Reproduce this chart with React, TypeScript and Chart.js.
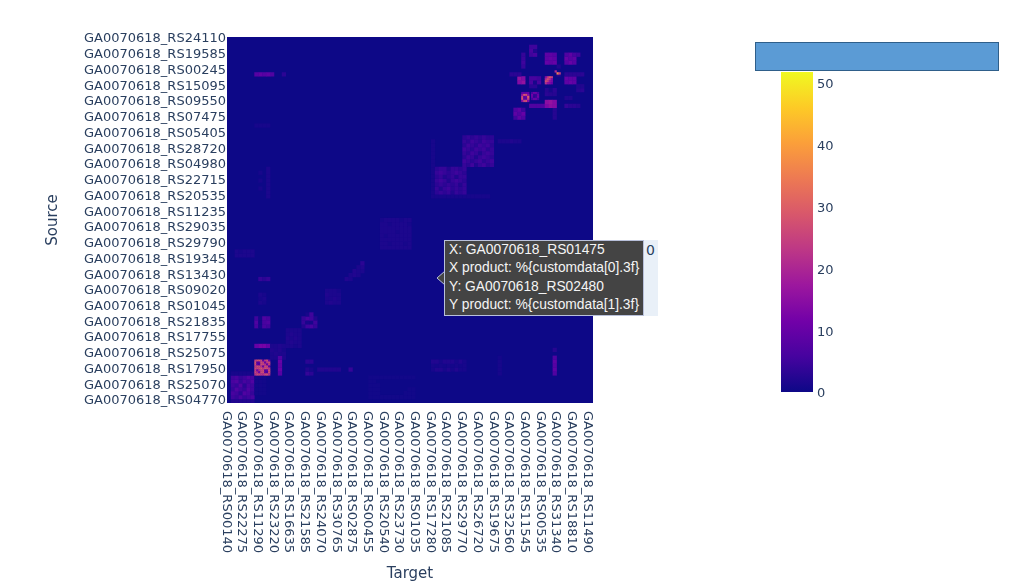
import React, { useEffect, useRef } from "react";
import { Chart, registerables } from "chart.js";

Chart.register(...registerables);

const FONT = "'DejaVu Sans', Verdana, sans-serif";
const INK = "#2a3f5f";

const targetLabels = ["GA0070618_RS00140","GA0070618_RS22275","GA0070618_RS11290","GA0070618_RS23220","GA0070618_RS16635","GA0070618_RS21585","GA0070618_RS24070","GA0070618_RS30765","GA0070618_RS02875","GA0070618_RS00455","GA0070618_RS20540","GA0070618_RS23730","GA0070618_RS01035","GA0070618_RS17280","GA0070618_RS21085","GA0070618_RS29770","GA0070618_RS26720","GA0070618_RS19675","GA0070618_RS32560","GA0070618_RS11545","GA0070618_RS00535","GA0070618_RS31340","GA0070618_RS18810","GA0070618_RS11490"];
const sourceLabels = ["GA0070618_RS04770","GA0070618_RS25070","GA0070618_RS17950","GA0070618_RS25075","GA0070618_RS17755","GA0070618_RS21835","GA0070618_RS01045","GA0070618_RS09020","GA0070618_RS13430","GA0070618_RS19345","GA0070618_RS29790","GA0070618_RS29035","GA0070618_RS11235","GA0070618_RS20535","GA0070618_RS22715","GA0070618_RS04980","GA0070618_RS28720","GA0070618_RS05405","GA0070618_RS07475","GA0070618_RS09550","GA0070618_RS15095","GA0070618_RS00245","GA0070618_RS19585","GA0070618_RS24110"];
const tickEvery = 4;

const plasma = ["#0d0887","#46039f","#7201a8","#9c179e","#bd3786","#d8576b","#ed7953","#fb9f3a","#fdca26","#f0f921"];
const colorMax = 51.8;

// Each row: [row index from the bottom, first column, ...cell values]
const coarseRows: number[][] = [
  [0,1,2,2,2,2,2,2],
  [1,1,5,4,6,4,5,6],[1,36,0.5,0.5,0.5,0.5,0.5,0.5,0.5,0.5,0.5,0.5,0.5,0.5],
  [2,1,6,5,3,7,6,4],[2,7,0.5,0.5,0.5],[2,36,0.5,0.5,0.5],[2,45,0.5,0.5,0.5],
  [3,1,4,7,5,4,7,5],[3,7,0.5,0.5,0.5],[3,36,0.5,0.5,0.5],[3,46,0.5,0.5],
  [4,1,5,4,7,3,6,5],[4,7,0.5,0.7,0.5],[4,36,0.5,0.5,0.5],
  [5,1,6,7,4,6,5,7],[5,7,0.7,0.7,0.5],[5,36,0.5,0.5],
  [6,1,5,6,4,5,7,6],[6,7,0.7,0.7,0.7],[6,36,0.5,0.5,0.5,0.5,0.5,0.5,0.5,0.5,0.5,0.5,0.5,0.5],
  [7,1,1,1,1,1,1,1],[7,13,8],[7,20,4,3],[7,69,1],[7,83,7],
  [8,13,10],[8,20,2,1],[8,23,2,2,2,2,2,2],[8,31,4],[8,52,1,2,2,1,2,1,2,1,1],[8,69,1],[8,83,9],
  [9,13,9],[9,52,1,0.7,1,0.7,1,0.7,1,0.7,1],[9,69,1],[9,83,8],
  [10,13,10],[10,20,3,3],[10,52,2,2,1,2,2,2,1,2,1],[10,69,1],[10,83,9],
  [11,11,1.5,1.5,1,1.5],[11,13,7],[11,69,0.7],[11,83,7],
  [12,11,1.5,2,1.5,1.5],
  [13,11,2,1.5,2,1],[13,83,2.5],
  [14,7,10,12,12,10],[14,11,1.5,1.5,2,1.5],[14,15,1.5,1.5,1,1.5],
  [15,15,1.5,2,1.5,1.5],
  [16,15,2,1.5,2,1.5],
  [17,15,1.5,2,1.5,1.5],
  [18,15,1.5,1.5,1.5,1.5],
  [19,7,6,1,6,5],[19,19,2,5,6,4],
  [20,7,7,0.7,6,7],[20,19,4,1,1,5],
  [21,7,5,1,7,6],[21,19,4,6,5,2],[21,21,5],
  [22,20,1,5],
  [25,8,1.5,1],[25,25,1.5,2,1.5,1.5],
  [26,8,1,1.5],[26,25,1.5,1.5,2,1.5],
  [27,8,1.5,1],[27,25,2,1.5,1.5,1.5],
  [28,25,1.5,1.5,1.5,1],
  [31,8,4,3,4],[31,30,2,1.5],[31,62,0.7],
  [32,31,1.5,2,1.5],
  [33,32,2,1.5,1.5],
  [34,33,1.5,2],[35,34,3],
  [37,2,1.5,1.5,1.5,1.5,1.5],
  [38,2,1.5,1,1.5,1.5,1.5],
  [39,39,1.5,1.5,1.5,1.5,1.5,1.5,1.5,1.5],
  [40,39,1.5,1.5,1,1.5,1.5,1.5,1,1.5],[41,39,1.5,1.5,1.5,1.5,1.5,1.5,1.5,1.5],[42,39,1.5,1,1.5,1.5,1.5,1.5,1.5,1.5],
  [43,39,1.5,1.5,1.5,1.5,1,1.5,1.5,1.5],[44,39,1.5,1.5,1.5,1.5,1.5,1.5,1.5,1.5],[45,39,1.5,1.5,1,1.5,1.5,1.5,1.5,1],[46,39,1,1.5,1.5,1.5,1.5,1,1.5,1.5],
  [52,52,1,1,1,1,1,1,1,1,1,1,1,1,1,1,1],
  [52,10,1.5],[53,10,1.5],[54,8,1],[54,10,1.5],[55,10,1.5],[56,8,1],[56,10,1.5],[57,10,1.5],[58,8,1],[58,10,1.5],[59,10,1.5],
  [53,52,1,3,4,3,4,2,4,3,4],
  [54,52,1,4,2,4,5,3,4,3,4],[55,52,1,3,4,3,4,3,4,2,4],[56,52,1,4,5,4,2,4,5,4,3],
  [57,52,1,3,4,2,3,4,2,4,4],[58,52,1,4,5,4,3,4,5,4,3],[59,52,1,3,4,4,2,4,4,3,4],
  [60,52,1],[60,60,4,3,5,2,4,5,3,4],
  [61,52,1],[61,60,5,4,3,4,5,3,4,5],[62,52,1],[62,60,3,5,4,2,4,5,4,3],[63,52,1],[63,60,4,3,5,4,2,4,5,4],
  [64,52,1],[64,60,5,4,3,5,4,5,3,4],[65,52,1],[65,60,3,5,4,3,5,4,5,3],[66,52,1],[66,60,4,3,5,4,3,5,4,4],[66,69,1.5,1.5,1.5,2,1.5,1.5],
  [67,60,3,4,3,4,3,4,3,3],
  [70,7,1,1,1,1],
  [72,73,5,9,7],[72,83,2.5],
  [73,73,9,7,10],[73,83,2.5],
  [74,73,7,9,5],[74,83,2.5],
  [75,77,7,7,7,7],[75,81,13,15,14],[75,86,4,3,3,2.5],
  [76,81,15,16,14],
  [77,75,8,9],[77,86,2,2],
  [78,75,9,10],[78,81,3,2.5,2.5],
  [79,81,2.5,1,3],[79,89,2.5,3],
  [80,77,3,3],[80,89,2,2],
  [81,74,14,16],[81,77,6,1,6],[81,86,9,10,9],
  [82,74,16,14],[82,77,6,6,5],[82,86,10,9,9],
  [83,7,8,9,8,9,7],[83,14,3],[83,72,3,3,3],[83,84,2.5],[83,86,3,3,3,3,3],
  [85,75,4],[85,84,2],
  [86,75,5],[86,81,10,9,10],[86,86,8,10,8],
  [87,75,4.5],[87,81,9,10,9],[87,86,10,8,9],
  [88,75,4],[88,77,5,6],[88,81,9,9,8],[88,86,7,9,6],[88,89,5],
  [89,77,6,2],
  [90,77,5,5],
];

// Same format, on a grid twice as fine, for the structure inside the hottest blocks.
const fineRows: number[][] = [
  [21,14,24,27,28,25,9,23,26,10],
  [20,14,28,8,10,26,24,10,23,26],
  [19,14,27,10,7,26,26,22,10,24],
  [18,14,23,27,26,22,10,26,25,9],
  [17,14,26,25,26,28,23,27,26,23],
  [16,14,24,12,21,25,26,8,10,27],
  [15,14,26,21,11,26,27,9,7,26],
  [14,14,22,26,25,23,22,26,27,21],
  [168,167,20],
  [167,168,36,24],
  [165,162,14,22,28,24],
  [164,162,20,27,22,14],
  [163,162,27,24,16,13],
  [162,162,22,16,14,11],
  [156,150,16,28,27,15],
  [155,150,26,8,10,30],
  [154,150,28,9,8,25],
  [153,150,15,25,27,14],
  [157,155,6,11,11,6],
  [156,155,11,4,4,10],
  [155,155,10,3,4,11],
  [154,155,6,10,10,6],
];

const colorbarRange = [0, colorMax];

const hexToRgb = (h: string) => [1, 3, 5].map((k) => parseInt(h.slice(k, k + 2), 16));
const colorFor = (v: number) => {
  const t = Math.min(v / colorMax, 1) * (plasma.length - 1);
  const a = Math.floor(t);
  const b = Math.min(a + 1, plasma.length - 1);
  const ca = hexToRgb(plasma[a]);
  const cb = hexToRgb(plasma[b]);
  const m = ca.map((c, k) => Math.round(c + (cb[k] - c) * (t - a)));
  return `rgb(${m[0]},${m[1]},${m[2]})`;
};

const toCells = (rows: number[][], size: number) =>
  rows.flatMap(([row, start, ...vals]) =>
    vals.map((v, k) => ({
      x: 0.25 + (start + k + 0.5) * size,
      y: -1 + (row + 0.5) * size,
      v,
    }))
  );

const cellDataset = (rows: number[][], size: number) => ({
  data: toCells(rows, size),
  pointStyle: "rect",
  borderWidth: 0,
  backgroundColor: (c: any) => colorFor(c.raw?.v ?? 0),
  pointRadius: (c: any) => {
    const s = c.chart.scales.x;
    return ((s.getPixelForValue(1) - s.getPixelForValue(0)) * size + 0.35) / Math.SQRT2;
  },
});

const backdrop = {
  id: "backdrop",
  beforeDatasetsDraw(chart: any) {
    const { ctx, chartArea: a } = chart;
    ctx.save();
    ctx.fillStyle = plasma[0];
    ctx.fillRect(a.left, a.top, a.right - a.left, a.bottom - a.top);
    ctx.restore();
    ctx.filter = "blur(0.5px)";
  },
  afterDatasetsDraw(chart: any) {
    chart.ctx.filter = "none";
  },
};

const verticalTickLabels = {
  id: "verticalTickLabels",
  afterDraw(chart: any) {
    const { ctx, scales } = chart;
    ctx.save();
    ctx.font = `13px ${FONT}`;
    ctx.fillStyle = INK;
    ctx.textAlign = "left";
    ctx.textBaseline = "middle";
    for (const t of scales.x.ticks) {
      ctx.save();
      ctx.translate(scales.x.getPixelForValue(t.value), 411);
      ctx.rotate(Math.PI / 2);
      ctx.fillText(t.label, 0, 0);
      ctx.restore();
    }
    ctx.restore();
  },
};

export default function App() {
  const mainRef = useRef<HTMLCanvasElement>(null);
  const barRef = useRef<HTMLCanvasElement>(null);

  useEffect(() => {
    const main = new Chart(mainRef.current!, {
      type: "scatter",
      plugins: [backdrop, verticalTickLabels],
      data: { datasets: [cellDataset(fineRows, 0.5), cellDataset(coarseRows, 1)] as any },
      options: {
        responsive: false,
        animation: false,
        events: [],
        layout: { padding: { left: 44, top: 37, right: 431, bottom: 0 } },
        plugins: { legend: { display: false }, tooltip: { enabled: false } },
        scales: {
          x: {
            type: "linear",
            min: 0.25,
            max: 93.5,
            grid: { display: false, drawTicks: false },
            border: { display: false },
            ticks: {
              display: false,
              autoSkip: false,
              callback: (_v: any, i: number) => targetLabels[i],
            },
            afterBuildTicks: (s: any) => {
              s.ticks = targetLabels.map((_, i) => ({ value: i * tickEvery }));
            },
            afterFit: (s: any) => {
              s.height = 178;
            },
            title: {
              display: true,
              text: "Target",
              color: INK,
              font: { family: FONT, size: 15 },
              padding: { top: 0, bottom: -2 },
            },
          },
          y: {
            type: "linear",
            min: -1,
            max: 92,
            grid: { display: false, drawTicks: false },
            border: { display: false },
            ticks: {
              autoSkip: false,
              padding: 1,
              labelOffset: 2,
              color: INK,
              font: { family: FONT, size: 13 },
              callback: (_v: any, i: number) => sourceLabels[i],
            },
            afterBuildTicks: (s: any) => {
              s.ticks = sourceLabels.map((_, i) => ({ value: i * tickEvery }));
            },
            afterFit: (s: any) => {
              s.width = 183;
            },
            title: {
              display: true,
              text: "Source",
              color: INK,
              font: { family: FONT, size: 15 },
              padding: { top: 0, bottom: 0 },
            },
          },
        },
      } as any,
    });

    const bar = new Chart(barRef.current!, {
      type: "bar",
      data: {
        labels: [""],
        datasets: [
          {
            data: [colorbarRange] as any,
            categoryPercentage: 1,
            barPercentage: 1,
            borderWidth: 0,
            backgroundColor: (c: any) => {
              const a = c.chart.chartArea;
              if (!a) return plasma[0];
              const g = c.chart.ctx.createLinearGradient(0, a.bottom, 0, a.top);
              plasma.forEach((col, i) => g.addColorStop(i / (plasma.length - 1), col));
              return g;
            },
          },
        ],
      },
      options: {
        responsive: false,
        animation: false,
        events: [],
        layout: { padding: { left: 781, top: 72, right: 166, bottom: 189 } },
        plugins: { legend: { display: false }, tooltip: { enabled: false } },
        scales: {
          x: { display: false },
          y: {
            position: "right",
            min: colorbarRange[0],
            max: colorbarRange[1],
            grid: { display: false, drawTicks: false },
            border: { display: false },
            ticks: {
              stepSize: 10,
              includeBounds: false,
              padding: 4,
              labelOffset: 2,
              color: INK,
              font: { family: FONT, size: 13 },
            },
            afterFit: (s: any) => {
              s.width = 45;
            },
          },
        },
      } as any,
    });

    return () => {
      main.destroy();
      bar.destroy();
    };
  }, []);

  const fill: React.CSSProperties = { position: "absolute", left: 0, top: 0 };
  const tipLine: React.CSSProperties = {
    position: "absolute",
    left: 4,
    whiteSpace: "nowrap",
    font: "13.8px/18px 'Liberation Sans', Arial, sans-serif",
    color: "#f4f4f4",
  };

  return (
    <div style={{ position: "absolute", left: 0, top: 0, width: 1024, height: 581, background: "#fff", overflow: "hidden" }}>
      <canvas ref={mainRef} width={1024} height={581} style={fill} />
      <canvas ref={barRef} width={1024} height={581} style={fill} />
      <div style={{ position: "absolute", left: 755, top: 42, width: 242, height: 27, background: "#5b9bd5", border: "1px solid #2f5f8a" }} />
      <div style={{ position: "absolute", left: 643, top: 240, width: 15, height: 76, background: "#e9f0f8" }}>
        <span style={{ position: "absolute", left: 3, top: 2, font: `14px ${FONT}`, color: INK }}>0</span>
      </div>
      <svg style={{ position: "absolute", left: 434, top: 268 }} width={12} height={20}>
        <polygon points="11,3 3,10 11,17" fill="#444444" stroke="#b8c0da" strokeWidth={1} />
      </svg>
      <div style={{ position: "absolute", left: 444, top: 240, width: 198, height: 74, background: "#444444", border: "1px solid #b8c0da", boxSizing: "content-box" }}>
        <div style={{ ...tipLine, top: 0 }}>X: GA0070618_RS01475</div>
        <div style={{ ...tipLine, top: 18 }}>X product: %{"{"}customdata[0].3f{"}"}</div>
        <div style={{ ...tipLine, top: 37 }}>Y: GA0070618_RS02480</div>
        <div style={{ ...tipLine, top: 55 }}>Y product: %{"{"}customdata[1].3f{"}"}</div>
      </div>
    </div>
  );
}
